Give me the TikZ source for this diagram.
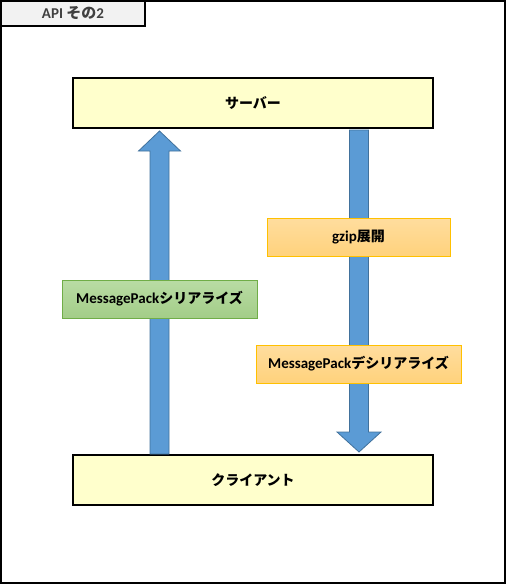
\documentclass[tikz,border=0pt]{standalone}
\usepackage{fontspec}
\setmainfont{Noto Sans CJK JP}
\newfontfamily\lat{Carlito Bold}
\usetikzlibrary{calc, positioning}

\definecolor{boxfill}{HTML}{FFFFCC}
\definecolor{tabfill}{HTML}{F2F2F2}
\definecolor{tabtext}{HTML}{404040}
\definecolor{arrowfill}{HTML}{5B9BD5}
\definecolor{arrowline}{HTML}{41719C}
\definecolor{greenline}{HTML}{70AD47}
\definecolor{greentop}{HTML}{B9DCA4}
\definecolor{greenbot}{HTML}{A3CD88}
\definecolor{orangeline}{HTML}{FFC000}
\definecolor{orangetop}{HTML}{FFDD9E}
\definecolor{orangebot}{HTML}{FFD27C}

\begin{document}
\begin{tikzpicture}[x=1pt, y=-1pt,
  endbox/.style={draw=black, line width=2pt, fill=boxfill,
    minimum width=360pt, minimum height=50pt, inner sep=0pt,
    font=\bfseries\fontsize{14}{14}\selectfont},
  greenbox/.style={draw=greenline, line width=1pt, top color=greentop, bottom color=greenbot,
    minimum height=38pt, inner sep=0pt, font=\bfseries\fontsize{14}{14}\selectfont},
  orangebox/.style={draw=orangeline, line width=1pt, top color=orangetop, bottom color=orangebot,
    minimum height=38pt, inner sep=0pt, font=\bfseries\fontsize{14}{14}\selectfont},
  blockarrow/.style={fill=arrowfill, draw=arrowline, line width=0.8pt}
]
\useasboundingbox (0,0) rectangle (506,584);

% Frame and tab
\draw[line width=2pt] (1,1) rectangle (505,583);
\node[draw=black, line width=2pt, fill=tabfill, minimum width=144pt, minimum height=25pt,
  inner sep=0pt, text=tabtext, font=\bfseries\fontsize{15}{15}\selectfont]
  (tab) at (73,13.5) {{\lat API} その{\lat 2}};

% Server and client
\node[endbox] (server) at (253,103) {サーバー};
\node[endbox] (client) at (253,480) {クライアント};

% Arrows
\coordinate (upTail) at (159.5,0 |- client.north);
\coordinate (upTip) at ($(159.5,0 |- server.south)+(0,2)$);
\coordinate (downTail) at ($(359,0 |- server.south)+(0,1)$);
\coordinate (downTip) at ($(359,0 |- client.north)+(0,-2)$);

\draw[blockarrow] ($(upTail)+(-9.5,0)$) -- ($(upTip)+(-9.5,20)$) -- ($(upTip)+(-21,20)$)
  -- (upTip) -- ($(upTip)+(21,20)$) -- ($(upTip)+(9.5,20)$) -- ($(upTail)+(9.5,0)$) -- cycle;
\draw[blockarrow] ($(downTail)+(-9.5,0)$) -- ($(downTip)+(-9.5,-20)$) -- ($(downTip)+(-22,-20)$)
  -- (downTip) -- ($(downTip)+(22,-20)$) -- ($(downTip)+(9.5,-20)$) -- ($(downTail)+(9.5,0)$) -- cycle;

% Labels on the arrows
\node[greenbox, minimum width=195pt] (ser) at (159.5,299) {{\lat\fontsize{15}{15}\selectfont MessagePack}シリアライズ};
\node[orangebox, minimum width=183pt] (gzip) at (358.5,237) {{\lat\fontsize{15}{15}\selectfont gzip}展開};
\node[orangebox, minimum width=205pt] (deser) at (358.5,364) {{\lat\fontsize{15}{15}\selectfont MessagePack}デシリアライズ};
\end{tikzpicture}
\end{document}
